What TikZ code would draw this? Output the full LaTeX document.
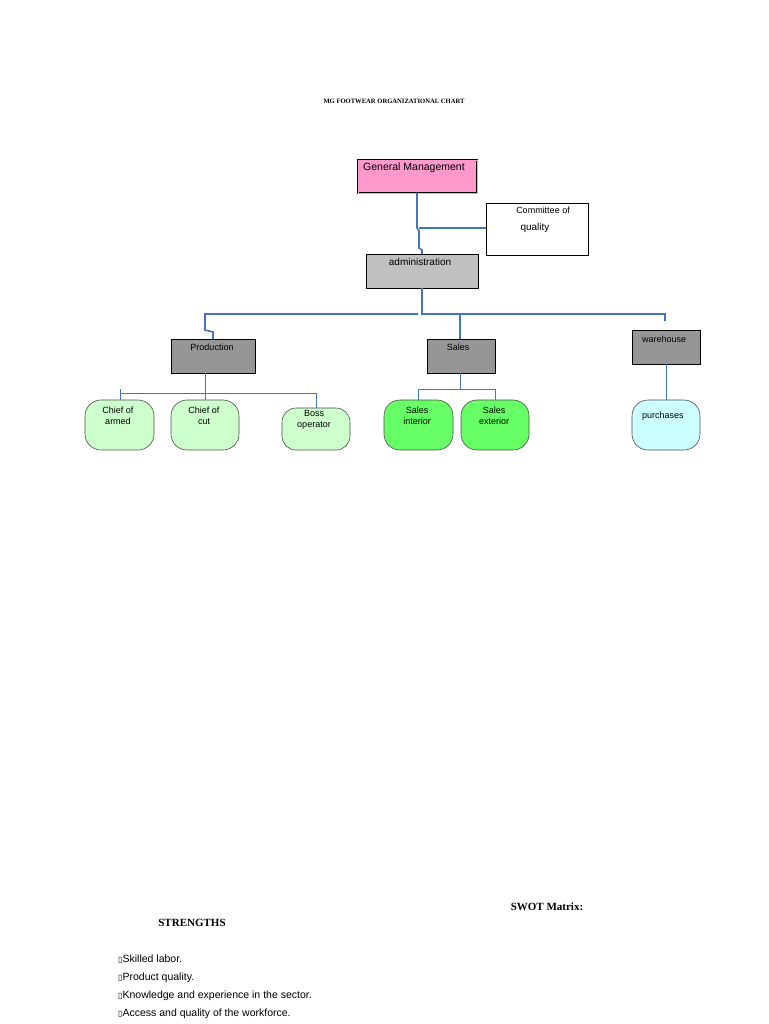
\documentclass[tikz,border=0pt]{standalone}
\usepackage{fontspec}
\setmainfont{Liberation Sans}
\newfontfamily\serf{Liberation Serif}
\newfontfamily\dejav{DejaVu Sans}
\definecolor{lnblue}{HTML}{4472C4}
\definecolor{pinkb}{HTML}{FF99CC}
\definecolor{lgray}{HTML}{C0C0C0}
\definecolor{dgray}{HTML}{969696}
\definecolor{lgreen}{HTML}{CCFFCC}
\definecolor{bgreen}{HTML}{66FF66}
\definecolor{lcyan}{HTML}{CCFFFF}
\begin{document}
\begin{tikzpicture}[x=1pt,y=-1pt,
  boxx/.style={draw=black,line width=0.8pt,inner sep=0pt,anchor=north west},
  ov/.style={draw=black!70,line width=0.6pt,rounded corners=16pt},
  lbl/.style={font=\fontsize{9}{10.5}\selectfont,align=center,inner sep=0pt},
  thick line/.style={draw=lnblue,line width=1.6pt},
  thin line/.style={draw=lnblue,line width=0.8pt}]
\useasboundingbox (0,0) rectangle (768,1024);
\node[font=\serf\bfseries\fontsize{6.6}{8}\selectfont] (title) at (394,101) {MG FOOTWEAR ORGANIZATIONAL CHART};
% boxes
\draw[boxx,fill=pinkb,double=pinkb,double distance=0.8pt] (358,160) rectangle (477,193);
\node[font=\fontsize{10.5}{12}\selectfont,anchor=west,inner sep=0pt] (gm) at (363,168) {General Management};
\coordinate (gmb) at (417,193);
\draw[boxx,fill=white] (486,203) rectangle (588,255);
\node[lbl,font=\fontsize{9}{10}\selectfont] (cq1) at (543,210) {Committee of};
\node[lbl,font=\fontsize{10}{11}\selectfont] (cq2) at (535,228) {quality};
\coordinate (cql) at (486,228);
\draw[boxx,fill=lgray] (366,254) rectangle (478,288);
\node[lbl,font=\fontsize{10}{11}\selectfont] (adm) at (420,262) {administration};
\coordinate (admt) at (422,254);
\coordinate (admb) at (422,288);
\draw[boxx,fill=dgray] (171,339) rectangle (255,373);
\node[lbl] (prod) at (212,347) {Production};
\draw[boxx,fill=dgray] (427,339) rectangle (495,373);
\node[lbl] (sales) at (458,347) {Sales};
\draw[boxx,fill=dgray] (632,330) rectangle (700,364);
\node[lbl,anchor=west] (wh) at (642,339) {warehouse};
% ovals
\draw[ov,fill=lgreen] (85,400) rectangle (154,450);
\node[lbl] (ca) at (118,416) {Chief of\\armed};
\draw[ov,fill=lgreen] (171,400) rectangle (239,450);
\node[lbl] (cc) at (204,416) {Chief of\\cut};
\draw[ov,fill=lgreen,rounded corners=14pt] (282,408) rectangle (350,450);
\node[lbl] (bo) at (314,420) {Boss\\operator};
\draw[ov,fill=bgreen] (384,400) rectangle (453,450);
\node[lbl] (si) at (417,416) {Sales\\interior};
\draw[ov,fill=bgreen] (461,400) rectangle (529,450);
\node[lbl] (se) at (494,416) {Sales\\exterior};
\draw[ov,fill=lcyan] (632,400) rectangle (700,450);
\node[lbl,anchor=west] (pu) at (642,416) {purchases};
% connectors
\draw[thick line] (gmb) -- (417,228) -- (419,231) -- (419,248) -- (422,250) -- (admt);
\draw[thick line] (419,228) -- (cql);
\draw[thick line] (admb) -- (422,314) -- (665,314) -- (665,321);
\draw[thick line] (418,314) -- (205,314) -- (205,330) -- (213,332) -- (213,339);
\draw[thick line] (460,314) -- (460,339);
\draw[thin line] (205,373) -- (205,393);
\draw[thin line] (120,389) -- (120,400);
\draw[thin line] (120,393) -- (316,393) -- (316,408);
\draw[thin line] (205,393) -- (205,400);
\draw[thin line] (460,373) -- (460,389) -- (418,389) -- (418,400);
\draw[thin line] (460,389) -- (495,389) -- (495,400);
\draw[thin line] (666,364) -- (666,400);
% SWOT
\node[font=\serf\bfseries\fontsize{11}{13}\selectfont] (swot) at (547,907) {SWOT Matrix:};
\node[font=\serf\bfseries\fontsize{11}{13}\selectfont] (str) at (192,923) {STRENGTHS};
\node[anchor=west,font=\fontsize{10.5}{12}\selectfont,inner sep=0pt] (b1) at (118,959) {{\dejav\fontsize{8}{10}\selectfont ▯}Skilled labor.};
\node[anchor=west,font=\fontsize{10.5}{12}\selectfont,inner sep=0pt] (b2) at (118,978) {{\dejav\fontsize{8}{10}\selectfont ▯}Product quality.};
\node[anchor=west,font=\fontsize{10.5}{12}\selectfont,inner sep=0pt] (b3) at (118,996) {{\dejav\fontsize{8}{10}\selectfont ▯}Knowledge and experience in the sector.};
\node[anchor=west,font=\fontsize{10.5}{12}\selectfont,inner sep=0pt] (b4) at (118,1014) {{\dejav\fontsize{8}{10}\selectfont ▯}Access and quality of the workforce.};
\end{tikzpicture}
\end{document}
